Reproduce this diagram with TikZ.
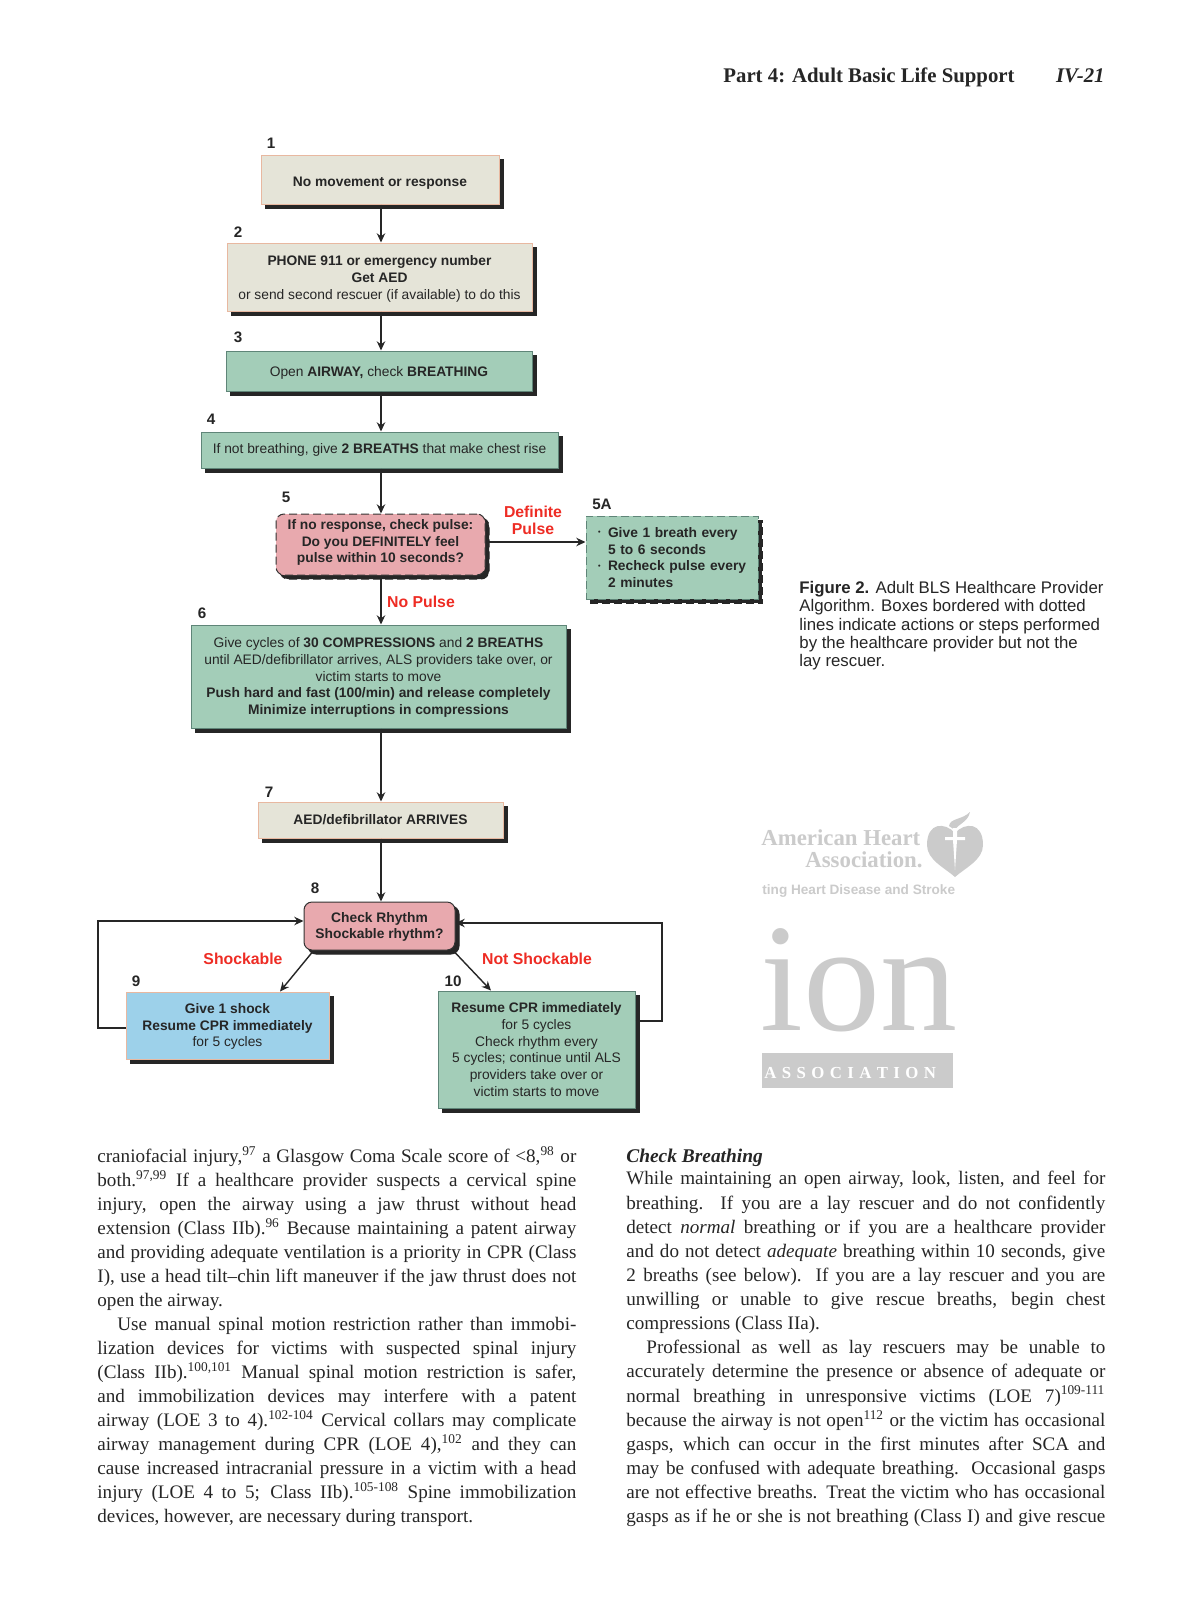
\documentclass[tikz,border=0pt]{standalone}
\usepackage{fontspec}
\setmainfont{Liberation Sans}
\newfontfamily\serifbody{Liberation Serif}
\usetikzlibrary{arrows.meta,shadows,calc}
\newcommand\toppad[1]{\rule{0pt}{#1}}
\newcommand\botpad[1]{\rule[-#1]{0pt}{#1}}
\newcommand\minibullet{\hspace*{2pt}\makebox[5pt][l]{\raisebox{1.2pt}{\fontsize{3.6}{4}\selectfont\textbullet}}}
\tikzset{
  flowbox/.style={rectangle,inner sep=0pt,align=center,line width=0.5pt,
    font=\fontsize{6.9}{8.35}\selectfont,text=black!85,
    copy shadow={shadow xshift=2pt,shadow yshift=-2pt,fill=black!85,draw=black!85}},
  beigebox/.style={flowbox,fill=beigec,draw=peachc},
  greenbox/.style={flowbox,fill=greenc,draw=greenedge},
  bluebox/.style={flowbox,fill=bluec,draw=peachc},
  pinkbox/.style={flowbox,fill=pinkc,draw=black!80,rounded corners=4pt},
  dashbox/.style={dash pattern=on 4pt off 2pt},
  num/.style={font=\fontsize{7.6}{8}\selectfont\bfseries,text=black!85,inner sep=0pt},
  redlabel/.style={font=\fontsize{7.9}{8.35}\selectfont\bfseries,text=redc,inner sep=0pt,align=center},
  conn/.style={line width=0.7pt,draw=black!85,-{Stealth[length=4.6pt,width=4.2pt]}},
  bodytext/.style={anchor=north west,inner sep=0pt,text width=239.5pt,align=justify,
    text=black!85,font=\serifbody\fontsize{9.55}{12}\selectfont},
  caption/.style={anchor=west,inner sep=0pt,text=black!85,font=\fontsize{8.4}{9}\selectfont},
  wm/.style={inner sep=0pt,text=wmc},
}
\definecolor{beigec}{HTML}{E5E4D8}
\definecolor{peachc}{HTML}{E8B8A0}
\definecolor{greenc}{HTML}{A3CDB8}
\definecolor{greenedge}{HTML}{5F8578}
\definecolor{bluec}{HTML}{9DD1EA}
\definecolor{pinkc}{HTML}{E8A9AE}
\definecolor{redc}{HTML}{EE2C24}
\definecolor{wmc}{HTML}{CBCBCB}
\begin{document}
\begin{tikzpicture}[x=0.5pt,y=-0.5pt]
\useasboundingbox (0,0) rectangle (1200,1606);
\fill[white] (0,0) rectangle (1200,1606);

% header
\node[anchor=base east,inner sep=0pt,text=black!85,font=\serifbody\fontsize{10.4}{12}\selectfont\bfseries] (hdr) at (1015,82) {Part 4: Adult Basic Life Support};
\node[anchor=base east,inner sep=0pt,text=black!85,font=\serifbody\fontsize{10.4}{12}\selectfont\bfseries\itshape] (pg) at (1105,82) {IV-21};

% boxes
\node[beigebox,minimum width=119pt,minimum height=24.5pt] (b1) at (380,179.5) {\toppad{8pt}\textbf{No movement or response}};
\node[beigebox,minimum width=152.5pt,minimum height=34pt] (b2) at (379.5,277) {\toppad{7pt}\textbf{PHONE 911 or emergency number}\\\textbf{Get AED}\\or send second rescuer (if available) to do this};
\node[greenbox,minimum width=153pt,minimum height=20pt] (b3) at (379,371) {\toppad{7pt}Open \textbf{AIRWAY,} check \textbf{BREATHING}};
\node[greenbox,minimum width=178.5pt,minimum height=18pt] (b4) at (379.5,450) {If not breathing, give \textbf{2 BREATHS} that make chest rise};
\node[pinkbox,dashbox,minimum width=104.5pt,minimum height=30.5pt] (b5) at (380.5,544.5) {\textbf{If no response, check pulse:}\\\textbf{Do you DEFINITELY feel}\\\textbf{pulse within 10 seconds?}\botpad{3.4pt}};
\node[greenbox,dashbox,minimum width=86pt,minimum height=41.5pt,text width=78pt,align=left] (b5a) at (672,557.5) {\bfseries\minibullet Give 1 breath every\\\bfseries\hspace*{7pt}5 to 6 seconds\\\bfseries\minibullet Recheck pulse every\\\bfseries\hspace*{7pt}2 minutes};
\node[greenbox,minimum width=187.5pt,minimum height=51.5pt] (b6) at (378.5,676.5) {\toppad{6pt}Give cycles of \textbf{30 COMPRESSIONS} and \textbf{2 BREATHS}\\until AED/defibrillator arrives, ALS providers take over, or\\victim starts to move\\\textbf{Push hard and fast (100/min) and release completely}\\\textbf{Minimize interruptions in compressions}};
\node[beigebox,minimum width=122.5pt,minimum height=18pt] (b7) at (380.5,820) {\textbf{AED/defibrillator ARRIVES}};
\node[pinkbox,minimum width=75.5pt,minimum height=24pt] (b8) at (379.5,926) {\toppad{6pt}\textbf{Check Rhythm}\\\textbf{Shockable rhythm?}};
\node[bluebox,minimum width=101.5pt,minimum height=33.5pt] (b9) at (227.5,1025.5) {\toppad{6pt}\textbf{Give 1 shock}\\\textbf{Resume CPR immediately}\\for 5 cycles};
\node[greenbox,minimum width=98.5pt,minimum height=58.5pt] (b10) at (536.5,1049.5) {\textbf{Resume CPR immediately}\\for 5 cycles\\Check rhythm every\\5 cycles; continue until ALS\\providers take over or\\victim starts to move};

% step numbers
\node[num] (n1) at (271,143) {1};
\node[num] (n2) at (238,232) {2};
\node[num] (n3) at (238,337) {3};
\node[num] (n4) at (211,419) {4};
\node[num] (n5) at (286,497) {5};
\node[num] (n5a) at (602,504) {5A};
\node[num] (n6) at (202,613) {6};
\node[num] (n7) at (269,792) {7};
\node[num] (n8) at (315,888) {8};
\node[num] (n9) at (136,981) {9};
\node[num] (n10) at (453,981) {10};

% labels
\node[redlabel] (ldp) at (533,520) {Definite\\Pulse};
\node[redlabel] (lnp) at (421,602) {No Pulse};
\node[redlabel] (lsh) at (243,959) {Shockable};
\node[redlabel] (lns) at (537,959) {Not Shockable};

% connectors
\coordinate (spine) at (381,0);
\coordinate (loopL) at (98,0);
\coordinate (loopR) at (662,0);
\draw[conn] (spine |- b1.south) -- (spine |- b2.north);
\draw[conn] (spine |- b2.south) -- (spine |- b3.north);
\draw[conn] (spine |- b3.south) -- (spine |- b4.north);
\draw[conn] (spine |- b4.south) -- (spine |- b5.north);
\draw[conn] (spine |- b5.south) -- (spine |- b6.north);
\draw[conn] (spine |- b6.south) -- (spine |- b7.north);
\draw[conn] (spine |- b7.south) -- (spine |- b8.north);
\draw[conn] ([yshift=1.25pt]b5.east) -- ([yshift=1.25pt]b5.east -| b5a.west);
\draw[conn] ([xshift=-33.75pt,yshift=-1pt]b8.south) -- ([xshift=26.25pt]b9.north);
\draw[conn] ([xshift=37.75pt,yshift=-1pt]b8.south) -- ([xshift=-22.75pt]b10.north);
\draw[conn] ([yshift=-1.25pt]b9.west) -- ([yshift=-1.25pt]b9.west -| loopL) -- ([yshift=2.5pt]b8.west -| loopL) -- ([yshift=2.5pt]b8.west);
\draw[conn] ([yshift=14.25pt]b10.east) -- ([yshift=14.25pt]b10.east -| loopR) -- ([yshift=1.5pt]b8.east -| loopR) -- ([yshift=1.5pt]b8.east);

% figure caption
\node[caption] (c1) at (799,589.5) {\textbf{Figure 2.} Adult BLS Healthcare Provider};
\node[caption] (c2) at (799,607.5) {Algorithm. Boxes bordered with dotted};
\node[caption] (c3) at (799,626) {lines indicate actions or steps performed};
\node[caption] (c4) at (799,644.5) {by the healthcare provider but not the};
\node[caption] (c5) at (799,662.5) {lay rescuer.};

% faint logo show-through
\node[wm,anchor=west,font=\serifbody\bfseries\fontsize{11.4}{14}\selectfont] (w1) at (761,838) {American Heart};
\node[wm,anchor=west,font=\serifbody\bfseries\fontsize{11.4}{14}\selectfont] (w2) at (805,860) {Association.};
\fill[wmc] (955,833) .. controls (945,822) and (927,822) .. (927,845) .. controls (927,860) and (945,868) .. (955,877) .. controls (965,868) and (983,860) .. (983,845) .. controls (983,822) and (965,822) .. (955,833) -- cycle;
\fill[wmc] (949,826) .. controls (950,818) and (962,820) .. (970,812) .. controls (968,822) and (958,824) .. (955,830) -- cycle;
\fill[white] (953,828) -- (957,828) -- (957,837) -- (965,837) -- (965,840) -- (957,840) -- (955,870) -- (953,840) -- (945,840) -- (945,837) -- (953,837) -- cycle;
\node[wm,anchor=west,font=\bfseries\fontsize{6.8}{8}\selectfont] (w3) at (762,891) {ting Heart Disease and Stroke};
\node[wm,anchor=base west,font=\serifbody\fontsize{77}{80}\selectfont] (w4) at (760,1030) {ion};
\fill[wmc] (762,1053) rectangle (953,1088);
\node[inner sep=0pt,anchor=west,text=white,font=\serifbody\bfseries\fontsize{8.4}{10}\selectfont] (w5) at (764,1073) {A\kern2.7pt S\kern2.7pt S\kern2.7pt O\kern2.7pt C\kern2.7pt I\kern2.7pt A\kern2.7pt T\kern2.7pt I\kern2.7pt O\kern2.7pt N};

% body text, left column
\node[bodytext] (col1) at (97,1146) {\tolerance=10000\hbadness=10000
craniofacial injury,\textsuperscript{97} a Glasgow Coma Scale score of <8,\textsuperscript{98} or\linebreak
both.\textsuperscript{97,99} If a healthcare provider suspects a cervical spine\linebreak
injury, open the airway using a jaw thrust without head\linebreak
extension (Class IIb).\textsuperscript{96} Because maintaining a patent airway\linebreak
and providing adequate ventilation is a priority in CPR (Class\linebreak
I), use a head tilt–chin lift maneuver if the jaw thrust does not\linebreak
open the airway.\par
\hspace*{10pt}Use manual spinal motion restriction rather than immobi-\linebreak
lization devices for victims with suspected spinal injury\linebreak
(Class IIb).\textsuperscript{100,101} Manual spinal motion restriction is safer,\linebreak
and immobilization devices may interfere with a patent\linebreak
airway (LOE 3 to 4).\textsuperscript{102-104} Cervical collars may complicate\linebreak
airway management during CPR (LOE 4),\textsuperscript{102} and they can\linebreak
cause increased intracranial pressure in a victim with a head\linebreak
injury (LOE 4 to 5; Class IIb).\textsuperscript{105-108} Spine immobilization\linebreak
devices, however, are necessary during transport.};

% body text, right column
\node[anchor=north west,inner sep=0pt,text=black!85,font=\serifbody\fontsize{9.7}{12}\selectfont\bfseries\itshape] (hd2) at (626,1149) {Check Breathing};
\node[bodytext,font=\serifbody\fontsize{9.55}{12.07}\selectfont] (col2) at (626,1171) {\tolerance=10000\hbadness=10000
While maintaining an open airway, look, listen, and feel for\linebreak
breathing. If you are a lay rescuer and do not confidently\linebreak
detect \textit{normal} breathing or if you are a healthcare provider\linebreak
and do not detect \textit{adequate} breathing within 10 seconds, give\linebreak
2 breaths (see below). If you are a lay rescuer and you are\linebreak
unwilling or unable to give rescue breaths, begin chest\linebreak
compressions (Class IIa).\par
\hspace*{10pt}Professional as well as lay rescuers may be unable to\linebreak
accurately determine the presence or absence of adequate or\linebreak
normal breathing in unresponsive victims (LOE 7)\textsuperscript{109-111}\linebreak
because the airway is not open\textsuperscript{112} or the victim has occasional\linebreak
gasps, which can occur in the first minutes after SCA and\linebreak
may be confused with adequate breathing. Occasional gasps\linebreak
are not effective breaths. Treat the victim who has occasional\linebreak
gasps as if he or she is not breathing (Class I) and give rescue\parfillskip=0pt\par};
\end{tikzpicture}
\end{document}
